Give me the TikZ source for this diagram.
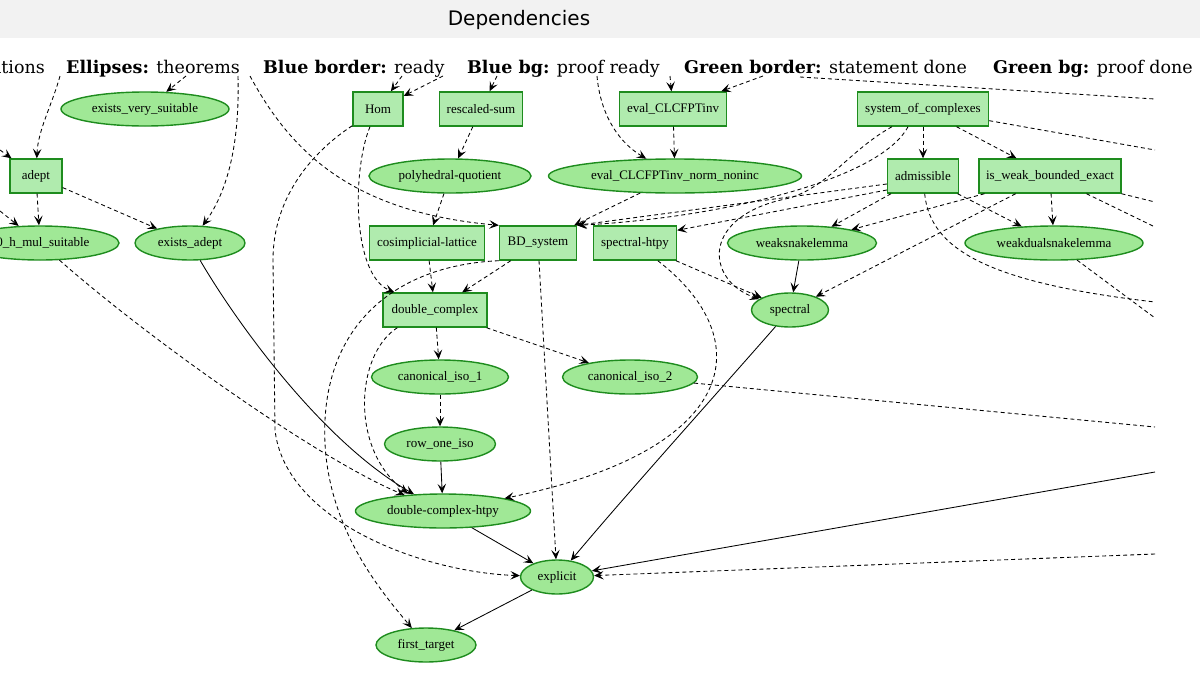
\documentclass[tikz,border=0pt]{standalone}
\usepackage{fontspec}
\setmainfont{Liberation Serif}
\newfontfamily\legfont{DejaVu Serif}
\newfontfamily\ttlfont{DejaVu Sans}
\usetikzlibrary{shapes.geometric,arrows.meta}
\definecolor{hdr}{HTML}{F2F2F2}
\definecolor{ngreen}{HTML}{1E8C1E}
\definecolor{rfill}{HTML}{B0EBAE}
\definecolor{efill}{HTML}{A0E896}
\tikzset{
 defn/.style={rectangle, draw=ngreen, fill=rfill, line width=1.4pt, minimum height=34pt, inner sep=1pt, font=\fontsize{13}{15}\selectfont},
 thm/.style={ellipse, draw=ngreen, fill=efill, line width=1.4pt, minimum height=34pt, inner sep=0pt, font=\fontsize{13}{15}\selectfont},
 arr/.style={-{Stealth[length=9.5pt,width=8.5pt,inset=4pt]}, line width=0.85pt},
 dep/.style={arr, dash pattern=on 4pt off 3pt},
 prf/.style={arr},
 loose/.style={line width=0.85pt, dash pattern=on 4pt off 3pt},
 leg/.style={font=\legfont\fontsize{17.5}{20}\selectfont, inner sep=0pt},
}
\begin{document}
\begin{tikzpicture}[x=1pt,y=-1pt]
\useasboundingbox (0,0) rectangle (1200,675);
\clip (0,0) rectangle (1200,675);
\fill[hdr] (0,0) rectangle (1200,38);
\node[font=\ttlfont\fontsize{20}{24}\selectfont, anchor=base, inner sep=0pt] (title) at (519,25) {Dependencies};

% legend
\node[leg, anchor=base east] (lg0) at (45,73.5) {\textbf{Rectangles:} definitions};
\node[leg, anchor=base west] (lg1) at (66,73.5) {\textbf{Ellipses:} theorems};
\node[leg, anchor=base west] (lg2) at (263,73.5) {\textbf{Blue border:} ready};
\node[leg, anchor=base west] (lg3) at (467,73.5) {\textbf{Blue bg:} proof ready};
\node[leg, anchor=base west] (lg4) at (684,73.5) {\textbf{Green border:} statement done};
\node[leg, anchor=base west] (lg5) at (993,73.5) {\textbf{Green bg:} proof done};

% nodes
\node[thm, minimum width=168] (evs) at (145,109) {exists\_very\_suitable};
\node[defn, minimum width=52] (adept) at (36,176) {adept};
\node[thm, minimum width=158] (hmul) at (40,243) {c0\_h\_mul\_suitable};
\node[thm, minimum width=110] (ea) at (190,243) {exists\_adept};
\node[defn, minimum width=50] (hom) at (378,109) {Hom};
\node[defn, minimum width=83] (rs) at (481,109) {rescaled-sum};
\node[defn, minimum width=107] (ec) at (673,109) {eval\_CLCFPTinv};
\node[defn, minimum width=131] (soc) at (923,109) {system\_of\_complexes};
\node[thm, minimum width=162] (pq) at (450,176) {polyhedral-quotient};
\node[thm, minimum width=253] (en) at (675,176) {eval\_CLCFPTinv\_norm\_noninc};
\node[defn, minimum width=71] (adm) at (923,176) {admissible};
\node[defn, minimum width=142] (iwbe) at (1050,176) {is\_weak\_bounded\_exact};
\node[defn, minimum width=115] (cl) at (427,243) {cosimplicial-lattice};
\node[defn, minimum width=77] (bd) at (538,243) {BD\_system};
\node[defn, minimum width=83] (sh) at (635,243) {spectral-htpy};
\node[thm, minimum width=149] (wsl) at (802,243) {weaksnakelemma};
\node[thm, minimum width=178] (wdsl) at (1054,243) {weakdualsnakelemma};
\node[defn, minimum width=104] (dc) at (435,310) {double\_complex};
\node[thm, minimum width=77] (sp) at (790,310) {spectral};
\node[thm, minimum width=137] (ci1) at (440,377) {canonical\_iso\_1};
\node[thm, minimum width=135] (ci2) at (630,377) {canonical\_iso\_2};
\node[thm, minimum width=111] (roi) at (440,444) {row\_one\_iso};
\node[thm, minimum width=175] (dch) at (443,511) {double-complex-htpy};
\node[thm, minimum width=73] (explicit) at (557,577) {explicit};
\node[thm, minimum width=100] (ft) at (426,645) {first\_target};

% free ends
\coordinate (fA) at (60,76);
\coordinate (fB) at (186,76);
\coordinate (fC) at (238,76);
\coordinate (fD) at (250,76);
\coordinate (fE) at (402,76);
\coordinate (fF) at (443,76);
\coordinate (fG) at (497,76);
\coordinate (fH) at (597,76);
\coordinate (fI) at (670,76);
\coordinate (fJ) at (763,76);
\coordinate (fK) at (800,77);
\coordinate (rK) at (1155,99);
\coordinate (fL1) at (0,150);
\coordinate (fL2) at (0,211);
\coordinate (r1) at (1155,150);
\coordinate (r2) at (1155,202);
\coordinate (r3) at (1155,227);
\coordinate (r4) at (1155,302);
\coordinate (r5) at (1155,318);
\coordinate (r6) at (1155,427);
\coordinate (r7) at (1155,472);
\coordinate (r8) at (1155,554);

% edges from outside
\draw[dep] (fA) .. controls (52,105) and (38,130) .. (adept);
\draw[dep] (fB) -- (evs);
\draw[dep] (fC) .. controls (240,150) and (225,195) .. (ea);
\draw[dep] (fD) .. controls (290,150) and (350,212) .. (bd.north west);
\draw[dep] (fE) -- (hom);
\draw[dep] (fF) -- (hom);
\draw[dep] (fG) -- (rs);
\draw[dep] (fH) .. controls (600,110) and (615,140) .. (en);
\draw[dep] (fI) -- (ec);
\draw[dep] (fJ) -- (ec);
\draw[loose] (fK) -- (rK);
\draw[dep] (fL1) -- (adept);
\draw[dep] (fL2) -- (hmul);
\draw[loose] (soc) -- (r1);
\draw[loose] (iwbe) -- (r2);
\draw[loose] (iwbe) -- (r3);
\draw[loose] (adm) .. controls (930,250) and (990,283) .. (r4);
\draw[loose] (wdsl) -- (r5);
\draw[loose] (ci2) -- (r6);
\draw[prf] (r7) -- (explicit);
\draw[dep] (r8) -- (explicit);

% internal edges
\draw[dep] (adept) -- (hmul);
\draw[dep] (adept) -- (ea);
\draw[dep] (hmul) .. controls (150,340) and (320,460) .. (dch);
\draw[prf] (ea) .. controls (235,320) and (320,440) .. (dch);
\draw[dep] (hom) .. controls (315,150) and (273,195) .. (273,260) -- (275,430) .. controls (285,520) and (420,572) .. (explicit);
\draw[dep] ([xshift=-8pt]hom.south) .. controls (352,170) and (352,275) .. ([xshift=12pt]dc.north west);
\draw[dep] (rs) -- (pq);
\draw[dep] (pq) -- (cl);
\draw[dep] (cl) -- (dc);
\draw[dep] (bd) -- (dc);
\draw[dep] (bd) -- (explicit);
\draw[dep] (bd.south west) .. controls (400,265) and (330,320) .. (325,420) .. controls (320,520) and (380,590) .. (ft);
\draw[dep] (dc) -- (ci1);
\draw[dep] (dc) -- (ci2);
\draw[dep] ([xshift=15pt]dc.south west) .. controls (355,355) and (350,450) .. ([xshift=-35pt]dch.north);
\draw[dep] (ci1) -- (roi);
\draw[prf] (roi) -- (dch);
\draw[dep] (sh) .. controls (760,340) and (740,450) .. (dch);
\draw[dep] (sh) -- (sp);
\draw[prf] (wsl) -- (sp);
\draw[dep] (iwbe) -- (sp);
\draw[prf] (sp) .. controls (720,390) and (630,490) .. (explicit);
\draw[prf] (dch) -- (explicit);
\draw[prf] (explicit) -- (ft);
\draw[dep] (soc) -- (adm);
\draw[dep] (soc) -- (iwbe);
\draw[dep] (iwbe) -- (wdsl);
\draw[dep] (adm) -- (wdsl);
\draw[dep] (adm) -- (wsl);
\draw[dep] (iwbe) -- (wsl);
\draw[dep] ([xshift=-31pt]soc.south) .. controls (850,150) and (830,185) .. (790,198) .. controls (700,215) and (705,280) .. (sp);
\draw[dep] ([xshift=-15pt]soc.south) .. controls (880,180) and (720,218) .. (bd.north east);
\draw[dep] ([yshift=-8pt]adm.west) -- (bd.north east);
\draw[dep] ([yshift=-14pt]adm.west) -- ([yshift=-5pt]sh.north east);
\draw[dep] (en) -- (bd);
\draw[dep] (ec) -- (en);
\end{tikzpicture}
\end{document}
